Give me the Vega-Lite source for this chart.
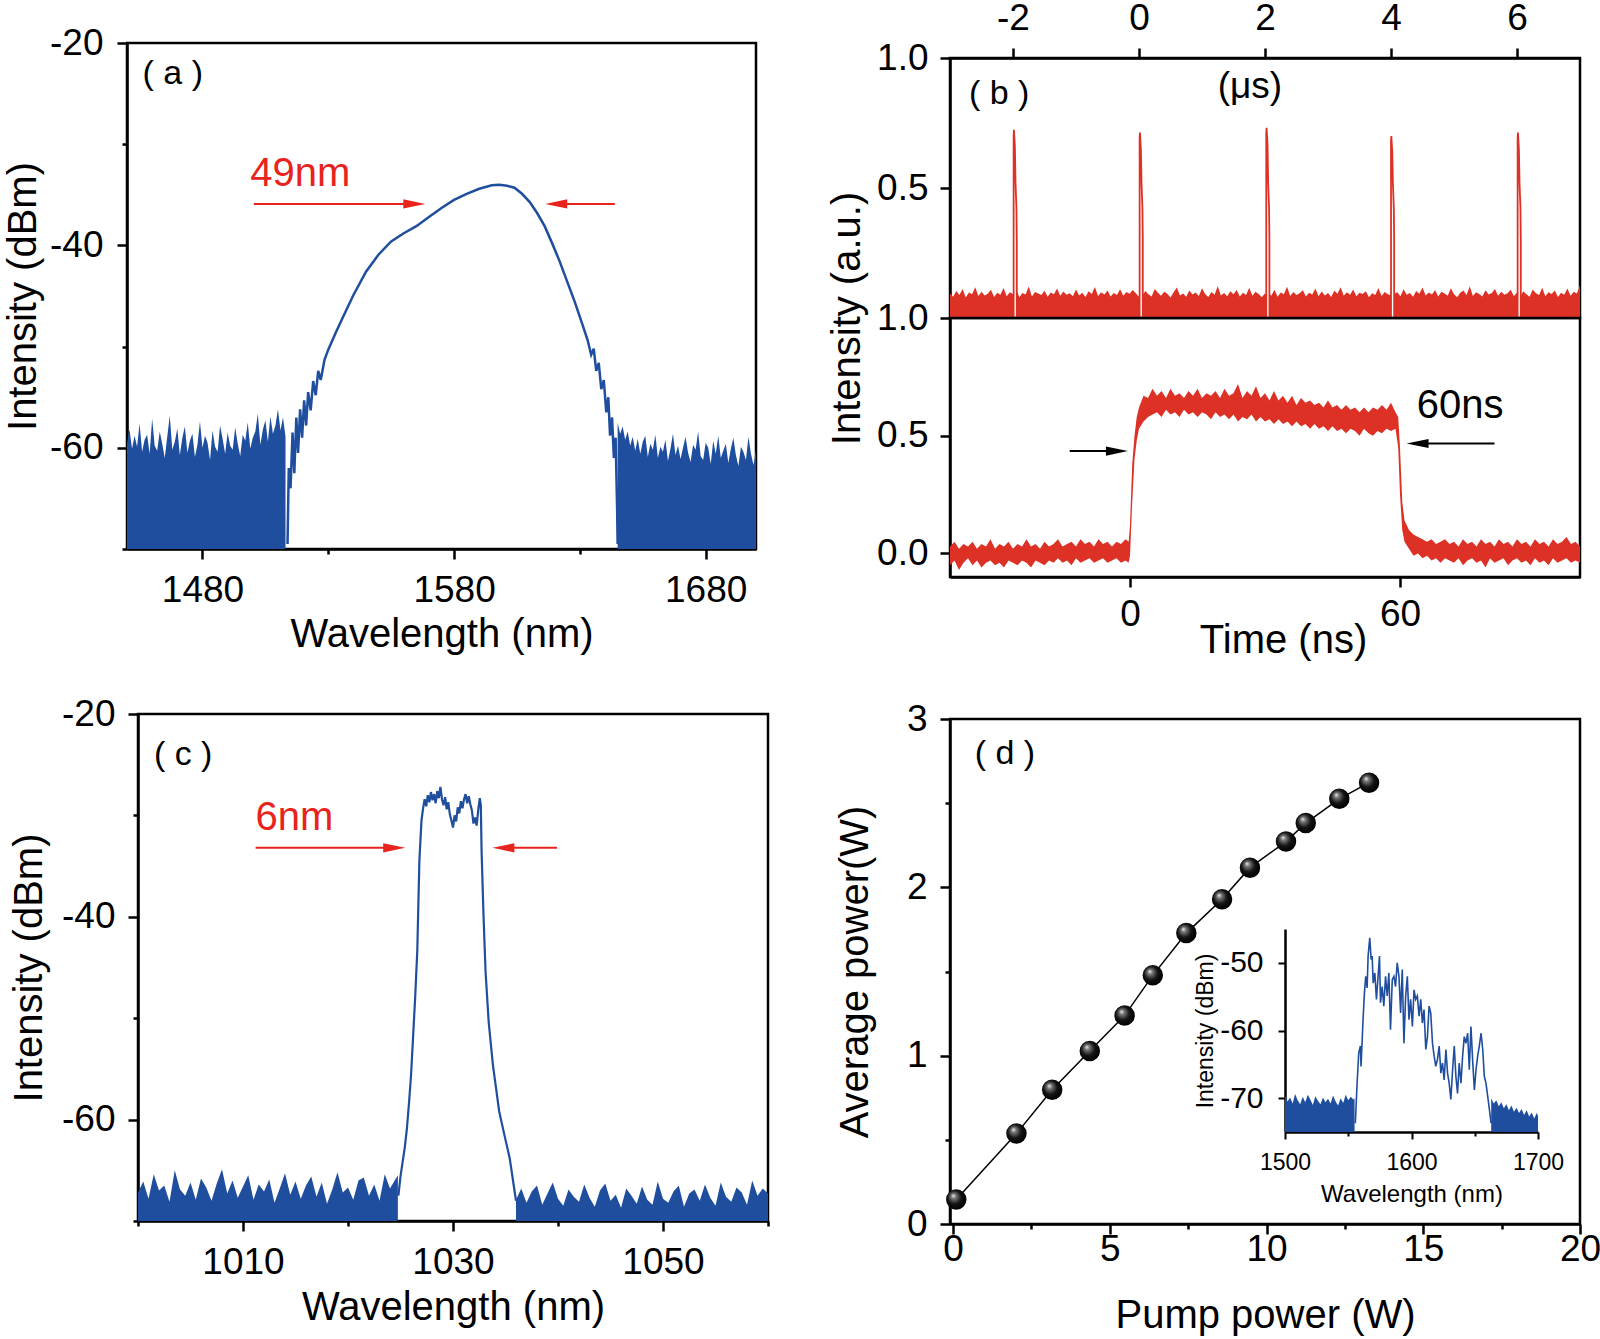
{
"$schema": "https://vega.github.io/schema/vega-lite/v6.json",
"background": "white",
"padding": {"left": 2, "top": -6, "right": 5, "bottom": 5},
"bounds": "full",
"spacing": 55,
"hconcat": [
{"bounds": "flush", "spacing": 0, "vconcat": [
 {"width": 10, "height": 49, "data": {"values": [{"k": 0}]}, "mark": {"type": "point", "opacity": 0}, "encoding": {}, "view": {"stroke": null}},
 {"width": 629, "height": 506, "layer": [
  {"data": {"name": "aNoise"}, "mark": {"type": "area", "color": "#1f4e9f"},
   "encoding": {
    "x": {"field": "x", "type": "quantitative", "scale": {"domain": [1450, 1700], "nice": false, "zero": false},
      "axis": {"title": "Wavelength (nm)", "values": [1480, 1530, 1580, 1630, 1680], "labelExpr": "datum.value % 100 === 80 ? '' + datum.value : ''", "tickSize": {"condition": {"test": "datum.value % 100 === 80", "value": 10}, "value": 5}, "labelPadding": 13, "titlePadding": 6}},
    "y": {"field": "y", "type": "quantitative", "stack": null, "scale": {"domain": [-70, -20], "nice": false, "zero": false},
      "axis": {"title": "Intensity (dBm)", "values": [-70, -60, -50, -40, -30, -20], "labelExpr": "datum.value % 20 === 0 ? '' + datum.value : ''", "tickSize": {"condition": {"test": "datum.value % 20 === 0", "value": 10}, "value": 5}, "labelPadding": 14, "titlePadding": 6}},
    "y2": {"datum": -70},
    "detail": {"field": "s", "type": "nominal"}}},
  {"data": {"name": "aSig"}, "mark": {"type": "line", "color": "#1f4e9f", "strokeWidth": 2.5},
   "encoding": {"x": {"field": "x", "type": "quantitative"}, "y": {"field": "y", "type": "quantitative"}}},
  {"data": {"values": [{"x": 1500.4, "x2": 1564.2, "y": -35.9}, {"x": 1620.6, "x2": 1643.9, "y": -35.9}]},
   "mark": {"type": "rule", "color": "#e8231c", "strokeWidth": 2},
   "encoding": {"x": {"field": "x", "type": "quantitative"}, "x2": {"field": "x2"}, "y": {"field": "y", "type": "quantitative"}}},
  {"data": {"values": [{"x": 1564.2, "y": -35.9, "d": "r"}, {"x": 1620.6, "y": -35.9, "d": "l"}]},
   "mark": {"type": "point", "filled": true, "size": 484, "color": "#e8231c", "opacity": 1, "strokeWidth": 0},
   "encoding": {"x": {"field": "x", "type": "quantitative"}, "y": {"field": "y", "type": "quantitative"},
     "shape": {"field": "d", "type": "nominal", "scale": {"domain": ["r", "l"], "range": ["M-1,-0.42L1,0L-1,0.42Z", "M1,-0.42L-1,0L1,0.42Z"]}, "legend": null}}},
  {"data": {"values": [{"x": 1499, "y": -34.1, "label": "49nm"}]},
   "mark": {"type": "text", "color": "#e8231c", "fontSize": 40, "align": "left", "baseline": "alphabetic"},
   "encoding": {"x": {"field": "x", "type": "quantitative"}, "y": {"field": "y", "type": "quantitative"}, "text": {"field": "label"}}},
  {"data": {"values": [{"x": 1468.2, "y": -23.1, "label": "( a )"}]},
   "mark": {"type": "text", "color": "black", "fontSize": 34, "align": "center", "baseline": "middle"},
   "encoding": {"x": {"field": "x", "type": "quantitative"}, "y": {"field": "y", "type": "quantitative"}, "text": {"field": "label"}}}
 ]},
 {"width": 10, "height": 165, "data": {"values": [{"k": 0}]}, "mark": {"type": "point", "opacity": 0}, "encoding": {}, "view": {"stroke": null}},
 {"bounds": "flush", "spacing": 0, "hconcat": [
  {"width": 11, "height": 10, "data": {"values": [{"k": 0}]}, "mark": {"type": "point", "opacity": 0}, "encoding": {}, "view": {"stroke": null}},
  {"width": 630, "height": 507, "layer": [
   {"data": {"name": "cNoise"}, "mark": {"type": "area", "color": "#1f4e9f"},
    "encoding": {
     "x": {"field": "x", "type": "quantitative", "scale": {"domain": [1000, 1060], "nice": false, "zero": false},
       "axis": {"title": "Wavelength (nm)", "values": [1000, 1010, 1020, 1030, 1040, 1050, 1060], "labelExpr": "(datum.value - 1010) % 20 === 0 ? '' + datum.value : ''", "tickSize": {"condition": {"test": "(datum.value - 1010) % 20 === 0", "value": 10}, "value": 5}, "labelPadding": 13, "titlePadding": 7}},
     "y": {"field": "y", "type": "quantitative", "stack": null, "scale": {"domain": [-70, -20], "nice": false, "zero": false},
       "axis": {"title": "Intensity (dBm)", "values": [-70, -60, -50, -40, -30, -20], "labelExpr": "datum.value % 20 === 0 ? '' + datum.value : ''", "tickSize": {"condition": {"test": "datum.value % 20 === 0", "value": 10}, "value": 5}, "labelPadding": 13, "titlePadding": 12}},
     "y2": {"datum": -70},
     "detail": {"field": "s", "type": "nominal"}}},
   {"data": {"name": "cSig"}, "mark": {"type": "line", "color": "#1f4e9f", "strokeWidth": 2.2},
    "encoding": {"x": {"field": "x", "type": "quantitative"}, "y": {"field": "y", "type": "quantitative"}}},
   {"data": {"values": [{"x": 1011.2, "x2": 1024.4, "y": -33.2}, {"x": 1034.8, "x2": 1039.9, "y": -33.2}]},
    "mark": {"type": "rule", "color": "#e8231c", "strokeWidth": 2},
    "encoding": {"x": {"field": "x", "type": "quantitative"}, "x2": {"field": "x2"}, "y": {"field": "y", "type": "quantitative"}}},
   {"data": {"values": [{"x": 1024.4, "y": -33.2, "d": "r"}, {"x": 1034.8, "y": -33.2, "d": "l"}]},
    "mark": {"type": "point", "filled": true, "size": 484, "color": "#e8231c", "opacity": 1, "strokeWidth": 0},
    "encoding": {"x": {"field": "x", "type": "quantitative"}, "y": {"field": "y", "type": "quantitative"},
      "shape": {"field": "d", "type": "nominal", "scale": {"domain": ["r", "l"], "range": ["M-1,-0.42L1,0L-1,0.42Z", "M1,-0.42L-1,0L1,0.42Z"]}, "legend": null}}},
   {"data": {"values": [{"x": 1011.2, "y": -31.4, "label": "6nm"}]},
    "mark": {"type": "text", "color": "#e8231c", "fontSize": 40, "align": "left", "baseline": "alphabetic"},
    "encoding": {"x": {"field": "x", "type": "quantitative"}, "y": {"field": "y", "type": "quantitative"}, "text": {"field": "label"}}},
   {"data": {"values": [{"x": 1004.3, "y": -24.0, "label": "( c )"}]},
    "mark": {"type": "text", "color": "black", "fontSize": 34, "align": "center", "baseline": "middle"},
    "encoding": {"x": {"field": "x", "type": "quantitative"}, "y": {"field": "y", "type": "quantitative"}, "text": {"field": "label"}}}
  ]}
 ]}
]},
{"bounds": "flush", "spacing": 0, "vconcat": [
 {"width": 10, "height": 64, "data": {"values": [{"k": 0}]}, "mark": {"type": "point", "opacity": 0}, "encoding": {}, "view": {"stroke": null}},
 {"width": 630, "height": 260, "layer": [
  {"data": {"name": "bBand"}, "mark": {"type": "area", "color": "#dd3126"},
   "encoding": {
    "x": {"field": "t", "type": "quantitative", "scale": {"domain": [-3, 7], "nice": false, "zero": false},
      "axis": {"orient": "top", "title": null, "values": [-2, 0, 2, 4, 6], "labelExpr": "'' + datum.value", "labelPadding": 11}},
    "y": {"field": "v", "type": "quantitative", "stack": null, "scale": {"domain": [0, 1], "nice": false, "zero": false},
      "axis": {"title": null, "values": [0.5, 1], "labelExpr": "format(datum.value, '.1f')", "labelPadding": 12}},
    "y2": {"datum": 0},
    "detail": {"field": "s", "type": "nominal"}}},
  {"data": {"name": "bPulse"}, "mark": {"type": "line", "color": "#dd3126", "strokeWidth": 1.8},
   "encoding": {"x": {"field": "t", "type": "quantitative"}, "y": {"field": "v", "type": "quantitative"}, "detail": {"field": "p", "type": "nominal"}, "order": {"value": null}}},
  {"data": {"values": [{"t": -2.22, "v": 0.862, "label": "( b )"}]},
   "mark": {"type": "text", "color": "black", "fontSize": 34, "align": "center", "baseline": "middle"},
   "encoding": {"x": {"field": "t", "type": "quantitative"}, "y": {"field": "v", "type": "quantitative"}, "text": {"field": "label"}}},
  {"data": {"values": [{"t": 1.76, "v": 0.888, "label": "(μs)"}]},
   "mark": {"type": "text", "color": "black", "fontSize": 37, "align": "center", "baseline": "middle"},
   "encoding": {"x": {"field": "t", "type": "quantitative"}, "y": {"field": "v", "type": "quantitative"}, "text": {"field": "label"}}}
 ]},
 {"width": 630, "height": 259, "layer": [
  {"data": {"name": "bLow"}, "mark": {"type": "area", "color": "#dd3126"},
   "encoding": {
    "x": {"field": "t", "type": "quantitative", "scale": {"domain": [-40, 100], "nice": false, "zero": false},
      "axis": {"title": "Time (ns)", "values": [0, 60], "labelExpr": "'' + datum.value", "labelPadding": 9, "titlePadding": -12, "titleX": 333}},
    "y": {"field": "hi", "type": "quantitative", "stack": null, "scale": {"domain": [-0.1, 1], "nice": false, "zero": false},
      "axis": {"title": "Intensity (a.u.)", "values": [0, 0.5, 1], "labelExpr": "format(datum.value, '.1f')", "labelPadding": 12, "titlePadding": 9, "titleY": 0}},
    "y2": {"field": "lo"}}},
  {"data": {"values": [{"x": -13.4, "x2": -2.9, "y": 0.435}, {"x": 63.9, "x2": 81.0, "y": 0.467}]},
   "mark": {"type": "rule", "color": "black", "strokeWidth": 2},
   "encoding": {"x": {"field": "x", "type": "quantitative"}, "x2": {"field": "x2"}, "y": {"field": "y", "type": "quantitative"}}},
  {"data": {"values": [{"x": -2.9, "y": 0.435, "d": "r"}, {"x": 63.9, "y": 0.467, "d": "l"}]},
   "mark": {"type": "point", "filled": true, "size": 484, "color": "black", "opacity": 1, "strokeWidth": 0},
   "encoding": {"x": {"field": "x", "type": "quantitative"}, "y": {"field": "y", "type": "quantitative"},
     "shape": {"field": "d", "type": "nominal", "scale": {"domain": ["r", "l"], "range": ["M-1,-0.42L1,0L-1,0.42Z", "M1,-0.42L-1,0L1,0.42Z"]}, "legend": null}}},
  {"data": {"values": [{"x": 63.7, "y": 0.575, "label": "60ns"}]},
   "mark": {"type": "text", "color": "black", "fontSize": 40, "align": "left", "baseline": "alphabetic"},
   "encoding": {"x": {"field": "x", "type": "quantitative"}, "y": {"field": "y", "type": "quantitative"}, "text": {"field": "label"}}}
 ]},
 {"width": 10, "height": 142, "data": {"values": [{"k": 0}]}, "mark": {"type": "point", "opacity": 0}, "encoding": {}, "view": {"stroke": null}},
 {"width": 630, "height": 505,
  "resolve": {"scale": {"x": "independent", "y": "independent"}, "axis": {"x": "independent", "y": "independent"}},
  "layer": [
   {"layer": [
    {"data": {"name": "dPts"}, "mark": {"type": "line", "color": "black", "strokeWidth": 1.5},
     "encoding": {
      "x": {"field": "x", "type": "quantitative", "scale": {"domain": [-0.1, 20], "nice": false, "zero": false},
        "axis": {"title": "Pump power (W)", "values": [0, 2.5, 5, 7.5, 10, 12.5, 15, 17.5, 20], "labelExpr": "datum.value % 5 === 0 ? '' + datum.value : ''", "tickSize": {"condition": {"test": "datum.value % 5 === 0", "value": 10}, "value": 5}, "labelPadding": -3, "titlePadding": 28}},
      "y": {"field": "y", "type": "quantitative", "scale": {"domain": [0, 3], "nice": false, "zero": false},
        "axis": {"title": "Average power(W)", "values": [0, 0.5, 1, 1.5, 2, 2.5, 3], "labelExpr": "datum.value % 1 === 0 ? '' + datum.value : ''", "tickSize": {"condition": {"test": "datum.value % 1 === 0", "value": 10}, "value": 5}, "labelPadding": 13, "titlePadding": 31}}}},
    {"data": {"name": "dPts"}, "mark": {"type": "point", "filled": true, "size": 420, "opacity": 1, "strokeWidth": 0,
       "fill": {"gradient": "radial", "x1": 0.35, "y1": 0.3, "r1": 0, "x2": 0.45, "y2": 0.45, "r2": 0.55, "stops": [{"offset": 0, "color": "#f2f2f2"}, {"offset": 0.22, "color": "#777777"}, {"offset": 0.6, "color": "#141414"}, {"offset": 1, "color": "#000000"}]}},
     "encoding": {"x": {"field": "x", "type": "quantitative"}, "y": {"field": "y", "type": "quantitative"}}},
    {"data": {"values": [{"x": 1.65, "y": 2.79, "label": "( d )"}]},
     "mark": {"type": "text", "color": "black", "fontSize": 34, "align": "center", "baseline": "middle"},
     "encoding": {"x": {"field": "x", "type": "quantitative"}, "y": {"field": "y", "type": "quantitative"}, "text": {"field": "label"}}}
   ]},
   {"layer": [
    {"data": {"name": "insetNoise"}, "mark": {"type": "area", "color": "#1f4e9f"},
     "encoding": {
      "x": {"field": "x", "type": "quantitative", "scale": {"domain": [1500, 1700], "range": [335, 588], "nice": false, "zero": false},
        "axis": {"orient": "bottom", "offset": -92, "title": "Wavelength (nm)", "values": [1500, 1550, 1600, 1650, 1700], "labelExpr": "datum.value % 100 === 0 ? '' + datum.value : ''", "tickSize": {"condition": {"test": "datum.value % 100 === 0", "value": 7}, "value": 4}, "tickWidth": 2, "labelFontSize": 23, "titleFontSize": 24, "labelPadding": 12, "titlePadding": 8}},
      "y": {"field": "y", "type": "quantitative", "stack": null, "scale": {"domain": [-75, -45], "range": [413, 210], "nice": false, "zero": false},
        "axis": {"orient": "left", "offset": -335, "title": "Intensity (dBm)", "values": [-70, -60, -50], "labelExpr": "'' + datum.value", "tickSize": 7, "tickWidth": 2, "labelFontSize": 30, "titleFontSize": 23, "labelPadding": 15, "titlePadding": 2}},
      "y2": {"datum": -75},
      "detail": {"field": "s", "type": "nominal"}}},
    {"data": {"name": "insetSig"}, "mark": {"type": "line", "color": "#1f4e9f", "strokeWidth": 1.6},
     "encoding": {"x": {"field": "x", "type": "quantitative"}, "y": {"field": "y", "type": "quantitative"}}}
   ]}
  ]}
]}
],
"datasets": {
"aNoise": [
{"x":1450,"y":-59.5,"s":1},{"x":1451,"y":-58.2,"s":1},{"x":1452,"y":-60.1,"s":1},{"x":1453,"y":-58.8,"s":1},{"x":1454,"y":-59.9,"s":1},{"x":1455,"y":-57.6,"s":1},{"x":1456,"y":-60.4,"s":1},{"x":1457,"y":-59.2,"s":1},{"x":1458,"y":-58.7,"s":1},{"x":1459,"y":-60.6,"s":1},
{"x":1460,"y":-57.1,"s":1},{"x":1461,"y":-59.8,"s":1},{"x":1462,"y":-60.3,"s":1},{"x":1463,"y":-58.4,"s":1},{"x":1464,"y":-59.6,"s":1},{"x":1465,"y":-61.0,"s":1},{"x":1466,"y":-58.9,"s":1},{"x":1467,"y":-56.8,"s":1},{"x":1468,"y":-60.2,"s":1},{"x":1469,"y":-59.4,"s":1},
{"x":1470,"y":-58.1,"s":1},{"x":1471,"y":-60.7,"s":1},{"x":1472,"y":-59.0,"s":1},{"x":1473,"y":-57.9,"s":1},{"x":1474,"y":-60.5,"s":1},{"x":1475,"y":-59.3,"s":1},{"x":1476,"y":-58.6,"s":1},{"x":1477,"y":-60.9,"s":1},{"x":1478,"y":-59.7,"s":1},{"x":1479,"y":-57.4,"s":1},
{"x":1480,"y":-60.0,"s":1},{"x":1481,"y":-58.8,"s":1},{"x":1482,"y":-59.5,"s":1},{"x":1483,"y":-61.2,"s":1},{"x":1484,"y":-58.3,"s":1},{"x":1485,"y":-59.9,"s":1},{"x":1486,"y":-60.4,"s":1},{"x":1487,"y":-57.8,"s":1},{"x":1488,"y":-59.1,"s":1},{"x":1489,"y":-60.6,"s":1},
{"x":1490,"y":-58.5,"s":1},{"x":1491,"y":-59.8,"s":1},{"x":1492,"y":-60.2,"s":1},{"x":1493,"y":-58.0,"s":1},{"x":1494,"y":-59.6,"s":1},{"x":1495,"y":-60.8,"s":1},{"x":1496,"y":-58.7,"s":1},{"x":1497,"y":-59.3,"s":1},{"x":1498,"y":-57.5,"s":1},{"x":1499,"y":-60.1,"s":1},
{"x":1500,"y":-59.0,"s":1},{"x":1501,"y":-58.4,"s":1},{"x":1502,"y":-56.6,"s":1},{"x":1503,"y":-59.7,"s":1},{"x":1504,"y":-58.2,"s":1},{"x":1505,"y":-57.3,"s":1},{"x":1506,"y":-59.4,"s":1},{"x":1507,"y":-56.9,"s":1},{"x":1508,"y":-58.6,"s":1},{"x":1509,"y":-57.8,"s":1},
{"x":1510,"y":-56.2,"s":1},{"x":1511,"y":-58.3,"s":1},{"x":1512,"y":-57.0,"s":1},{"x":1513,"y":-58.9,"s":1},
{"x":1645,"y":-57.5,"s":2},{"x":1646,"y":-58.6,"s":2},{"x":1647,"y":-57.9,"s":2},{"x":1648,"y":-59.2,"s":2},{"x":1649,"y":-58.4,"s":2},{"x":1650,"y":-59.8,"s":2},{"x":1651,"y":-58.9,"s":2},{"x":1652,"y":-60.3,"s":2},{"x":1653,"y":-59.1,"s":2},{"x":1654,"y":-60.6,"s":2},
{"x":1655,"y":-59.4,"s":2},{"x":1656,"y":-58.8,"s":2},{"x":1657,"y":-60.9,"s":2},{"x":1658,"y":-59.6,"s":2},{"x":1659,"y":-60.2,"s":2},{"x":1660,"y":-58.7,"s":2},{"x":1661,"y":-61.0,"s":2},{"x":1662,"y":-59.9,"s":2},{"x":1663,"y":-60.4,"s":2},{"x":1664,"y":-59.2,"s":2},
{"x":1665,"y":-61.3,"s":2},{"x":1666,"y":-60.1,"s":2},{"x":1667,"y":-58.6,"s":2},{"x":1668,"y":-60.7,"s":2},{"x":1669,"y":-59.8,"s":2},{"x":1670,"y":-61.1,"s":2},{"x":1671,"y":-60.0,"s":2},{"x":1672,"y":-58.9,"s":2},{"x":1673,"y":-60.5,"s":2},{"x":1674,"y":-61.4,"s":2},
{"x":1675,"y":-59.7,"s":2},{"x":1676,"y":-60.2,"s":2},{"x":1677,"y":-58.4,"s":2},{"x":1678,"y":-60.8,"s":2},{"x":1679,"y":-61.2,"s":2},{"x":1680,"y":-59.5,"s":2},{"x":1681,"y":-60.0,"s":2},{"x":1682,"y":-61.6,"s":2},{"x":1683,"y":-59.3,"s":2},{"x":1684,"y":-60.6,"s":2},
{"x":1685,"y":-58.8,"s":2},{"x":1686,"y":-61.0,"s":2},{"x":1687,"y":-60.3,"s":2},{"x":1688,"y":-59.6,"s":2},{"x":1689,"y":-61.5,"s":2},{"x":1690,"y":-60.1,"s":2},{"x":1691,"y":-59.0,"s":2},{"x":1692,"y":-60.7,"s":2},{"x":1693,"y":-61.8,"s":2},{"x":1694,"y":-59.9,"s":2},
{"x":1695,"y":-60.4,"s":2},{"x":1696,"y":-61.2,"s":2},{"x":1697,"y":-58.9,"s":2},{"x":1698,"y":-60.6,"s":2},{"x":1699,"y":-61.7,"s":2},{"x":1700,"y":-60.2,"s":2}
],
"aSig": [
{"x":1513.8,"y":-69.5},{"x":1514.3,"y":-62},{"x":1515,"y":-64},{"x":1515.8,"y":-58.5},{"x":1516.5,"y":-62.5},{"x":1517.3,"y":-57},{"x":1518,"y":-60.5},{"x":1518.8,"y":-56.2},{"x":1519.6,"y":-59},{"x":1520.4,"y":-55.3},
{"x":1521.2,"y":-57.8},{"x":1522,"y":-54.5},{"x":1523,"y":-56.3},{"x":1524,"y":-53.4},{"x":1525,"y":-54.8},{"x":1526,"y":-52.4},{"x":1527,"y":-53.3},{"x":1528.5,"y":-51.3},{"x":1530,"y":-50.3},{"x":1533,"y":-48.6},
{"x":1536,"y":-47},{"x":1540,"y":-44.9},{"x":1545,"y":-42.6},{"x":1550,"y":-40.9},{"x":1555,"y":-39.6},{"x":1560,"y":-38.8},{"x":1565,"y":-38.1},{"x":1570,"y":-37.2},{"x":1575,"y":-36.3},{"x":1580,"y":-35.5},
{"x":1585,"y":-34.9},{"x":1590,"y":-34.4},{"x":1595,"y":-34.05},{"x":1598,"y":-34.0},{"x":1601,"y":-34.1},{"x":1604,"y":-34.3},{"x":1607,"y":-34.9},{"x":1610,"y":-35.7},{"x":1613,"y":-36.8},{"x":1616,"y":-38.1},
{"x":1619,"y":-39.8},{"x":1622,"y":-41.6},{"x":1625,"y":-43.6},{"x":1628,"y":-45.6},{"x":1631,"y":-47.8},{"x":1633,"y":-49.3},{"x":1634.5,"y":-50.8},{"x":1635.5,"y":-50.2},{"x":1636.5,"y":-52.4},{"x":1637.5,"y":-51.6},
{"x":1638.5,"y":-54.2},{"x":1639.5,"y":-53.3},{"x":1640.5,"y":-56.5},{"x":1641.3,"y":-55},{"x":1642,"y":-58.8},{"x":1642.8,"y":-57},{"x":1643.5,"y":-61},{"x":1644.2,"y":-59},{"x":1644.8,"y":-66},{"x":1645,"y":-69.5}
],
"cNoise": [
{"x":1000,"y":-67.2,"s":1},{"x":1000.5,"y":-66.1,"s":1},{"x":1001,"y":-67.8,"s":1},{"x":1001.5,"y":-65.4,"s":1},{"x":1002,"y":-67.0,"s":1},{"x":1002.5,"y":-66.5,"s":1},{"x":1003,"y":-68.1,"s":1},{"x":1003.5,"y":-65.0,"s":1},{"x":1004,"y":-66.9,"s":1},{"x":1004.5,"y":-67.5,"s":1},
{"x":1005,"y":-66.2,"s":1},{"x":1005.5,"y":-67.9,"s":1},{"x":1006,"y":-65.8,"s":1},{"x":1006.5,"y":-66.7,"s":1},{"x":1007,"y":-68.0,"s":1},{"x":1007.5,"y":-66.3,"s":1},{"x":1008,"y":-64.9,"s":1},{"x":1008.5,"y":-67.3,"s":1},{"x":1009,"y":-66.0,"s":1},{"x":1009.5,"y":-67.7,"s":1},
{"x":1010,"y":-66.6,"s":1},{"x":1010.5,"y":-65.5,"s":1},{"x":1011,"y":-67.9,"s":1},{"x":1011.5,"y":-66.4,"s":1},{"x":1012,"y":-67.1,"s":1},{"x":1012.5,"y":-65.9,"s":1},{"x":1013,"y":-68.2,"s":1},{"x":1013.5,"y":-66.8,"s":1},{"x":1014,"y":-65.3,"s":1},{"x":1014.5,"y":-67.4,"s":1},
{"x":1015,"y":-66.1,"s":1},{"x":1015.5,"y":-67.8,"s":1},{"x":1016,"y":-66.5,"s":1},{"x":1016.5,"y":-65.6,"s":1},{"x":1017,"y":-67.6,"s":1},{"x":1017.5,"y":-66.2,"s":1},{"x":1018,"y":-68.3,"s":1},{"x":1018.5,"y":-66.9,"s":1},{"x":1019,"y":-65.2,"s":1},{"x":1019.5,"y":-67.2,"s":1},
{"x":1020,"y":-66.7,"s":1},{"x":1020.5,"y":-67.9,"s":1},{"x":1021,"y":-66.0,"s":1},{"x":1021.5,"y":-65.7,"s":1},{"x":1022,"y":-67.5,"s":1},{"x":1022.5,"y":-66.4,"s":1},{"x":1023,"y":-68.0,"s":1},{"x":1023.5,"y":-65.4,"s":1},{"x":1024,"y":-66.8,"s":1},{"x":1024.5,"y":-65.9,"s":1},{"x":1024.75,"y":-65.5,"s":1},
{"x":1036,"y":-67.9,"s":2},{"x":1036.5,"y":-66.8,"s":2},{"x":1037,"y":-68.2,"s":2},{"x":1037.5,"y":-67.1,"s":2},{"x":1038,"y":-66.5,"s":2},{"x":1038.5,"y":-68.4,"s":2},{"x":1039,"y":-67.3,"s":2},{"x":1039.5,"y":-66.2,"s":2},{"x":1040,"y":-67.8,"s":2},{"x":1040.5,"y":-68.5,"s":2},
{"x":1041,"y":-66.9,"s":2},{"x":1041.5,"y":-67.6,"s":2},{"x":1042,"y":-68.1,"s":2},{"x":1042.5,"y":-66.4,"s":2},{"x":1043,"y":-67.7,"s":2},{"x":1043.5,"y":-68.6,"s":2},{"x":1044,"y":-67.0,"s":2},{"x":1044.5,"y":-66.3,"s":2},{"x":1045,"y":-68.0,"s":2},{"x":1045.5,"y":-67.4,"s":2},
{"x":1046,"y":-68.7,"s":2},{"x":1046.5,"y":-66.8,"s":2},{"x":1047,"y":-67.5,"s":2},{"x":1047.5,"y":-68.3,"s":2},{"x":1048,"y":-66.6,"s":2},{"x":1048.5,"y":-67.9,"s":2},{"x":1049,"y":-68.4,"s":2},{"x":1049.5,"y":-66.1,"s":2},{"x":1050,"y":-67.8,"s":2},{"x":1050.5,"y":-68.2,"s":2},
{"x":1051,"y":-67.1,"s":2},{"x":1051.5,"y":-66.5,"s":2},{"x":1052,"y":-68.6,"s":2},{"x":1052.5,"y":-67.3,"s":2},{"x":1053,"y":-66.9,"s":2},{"x":1053.5,"y":-68.0,"s":2},{"x":1054,"y":-66.4,"s":2},{"x":1054.5,"y":-67.7,"s":2},{"x":1055,"y":-68.5,"s":2},{"x":1055.5,"y":-66.2,"s":2},
{"x":1056,"y":-67.6,"s":2},{"x":1056.5,"y":-68.1,"s":2},{"x":1057,"y":-66.7,"s":2},{"x":1057.5,"y":-67.2,"s":2},{"x":1058,"y":-68.4,"s":2},{"x":1058.5,"y":-66.0,"s":2},{"x":1059,"y":-67.5,"s":2},{"x":1059.5,"y":-66.8,"s":2},{"x":1060,"y":-67.3,"s":2}
],
"cSig": [
{"x":1024.8,"y":-67.5},{"x":1025.0,"y":-65.6},{"x":1025.2,"y":-64.2},{"x":1025.4,"y":-62.8},{"x":1025.6,"y":-61},{"x":1025.8,"y":-58.5},{"x":1026.0,"y":-55.7},{"x":1026.2,"y":-51.8},{"x":1026.4,"y":-47.9},{"x":1026.6,"y":-43.3},
{"x":1026.8,"y":-34.4},{"x":1027.0,"y":-30.5},{"x":1027.15,"y":-29.3},{"x":1027.3,"y":-28.4},{"x":1027.45,"y":-29.1},{"x":1027.6,"y":-28.0},{"x":1027.75,"y":-28.7},{"x":1027.9,"y":-27.7},{"x":1028.05,"y":-28.5},{"x":1028.2,"y":-27.9},
{"x":1028.35,"y":-28.8},{"x":1028.5,"y":-27.6},{"x":1028.65,"y":-28.3},{"x":1028.8,"y":-27.2},{"x":1028.95,"y":-28.4},{"x":1029.1,"y":-29.0},{"x":1029.25,"y":-28.2},{"x":1029.4,"y":-29.4},{"x":1029.55,"y":-28.7},{"x":1029.7,"y":-29.9},
{"x":1029.85,"y":-30.5},{"x":1030.0,"y":-31.2},{"x":1030.15,"y":-30.0},{"x":1030.3,"y":-30.6},{"x":1030.45,"y":-29.2},{"x":1030.6,"y":-29.8},{"x":1030.75,"y":-28.6},{"x":1030.9,"y":-29.3},{"x":1031.05,"y":-28.4},{"x":1031.2,"y":-27.9},
{"x":1031.35,"y":-28.8},{"x":1031.5,"y":-28.1},{"x":1031.65,"y":-28.9},{"x":1031.8,"y":-29.5},{"x":1031.95,"y":-30.8},{"x":1032.1,"y":-30.2},{"x":1032.25,"y":-31.0},{"x":1032.4,"y":-29.5},{"x":1032.55,"y":-28.3},{"x":1032.65,"y":-29.0},
{"x":1032.72,"y":-33.4},{"x":1032.9,"y":-39.7},{"x":1033.1,"y":-45.4},{"x":1033.4,"y":-50.4},{"x":1033.8,"y":-54.6},{"x":1034.4,"y":-59.2},{"x":1035.0,"y":-62},{"x":1035.4,"y":-63.8},{"x":1035.8,"y":-66.6},{"x":1036.0,"y":-68}
],
"bBand": [
{"t":-3,"v":0.095,"s":1},{"t":-2.95,"v":0.082,"s":1},{"t":-2.9,"v":0.104,"s":1},{"t":-2.85,"v":0.088,"s":1},{"t":-2.8,"v":0.112,"s":1},{"t":-2.75,"v":0.079,"s":1},{"t":-2.7,"v":0.098,"s":1},{"t":-2.65,"v":0.091,"s":1},{"t":-2.6,"v":0.118,"s":1},{"t":-2.55,"v":0.085,"s":1},
{"t":-2.5,"v":0.101,"s":1},{"t":-2.45,"v":0.087,"s":1},{"t":-2.4,"v":0.093,"s":1},{"t":-2.35,"v":0.109,"s":1},{"t":-2.3,"v":0.081,"s":1},{"t":-2.25,"v":0.097,"s":1},{"t":-2.2,"v":0.089,"s":1},{"t":-2.15,"v":0.115,"s":1},{"t":-2.1,"v":0.084,"s":1},{"t":-2.05,"v":0.099,"s":1},
{"t":-2,"v":0.092,"s":1},{"t":-1.99,"v":0.086,"s":1},
{"t":-1.94,"v":0.107,"s":2},{"t":-1.9,"v":0.080,"s":2},{"t":-1.85,"v":0.096,"s":2},{"t":-1.8,"v":0.090,"s":2},{"t":-1.75,"v":0.121,"s":2},{"t":-1.7,"v":0.083,"s":2},{"t":-1.65,"v":0.100,"s":2},{"t":-1.6,"v":0.094,"s":2},{"t":-1.55,"v":0.088,"s":2},{"t":-1.5,"v":0.105,"s":2},
{"t":-1.45,"v":0.082,"s":2},{"t":-1.4,"v":0.098,"s":2},{"t":-1.35,"v":0.091,"s":2},{"t":-1.3,"v":0.113,"s":2},{"t":-1.25,"v":0.086,"s":2},{"t":-1.2,"v":0.102,"s":2},{"t":-1.15,"v":0.089,"s":2},{"t":-1.1,"v":0.095,"s":2},{"t":-1.05,"v":0.084,"s":2},{"t":-1,"v":0.110,"s":2},
{"t":-0.95,"v":0.087,"s":2},{"t":-0.9,"v":0.097,"s":2},{"t":-0.85,"v":0.081,"s":2},{"t":-0.8,"v":0.103,"s":2},{"t":-0.75,"v":0.092,"s":2},{"t":-0.7,"v":0.119,"s":2},{"t":-0.65,"v":0.085,"s":2},{"t":-0.6,"v":0.099,"s":2},{"t":-0.55,"v":0.090,"s":2},{"t":-0.5,"v":0.106,"s":2},
{"t":-0.45,"v":0.083,"s":2},{"t":-0.4,"v":0.096,"s":2},{"t":-0.35,"v":0.088,"s":2},{"t":-0.3,"v":0.111,"s":2},{"t":-0.25,"v":0.086,"s":2},{"t":-0.2,"v":0.100,"s":2},{"t":-0.15,"v":0.093,"s":2},{"t":-0.1,"v":0.108,"s":2},{"t":-0.05,"v":0.095,"s":2},{"t":0,"v":0.082,"s":2},{"t":0.01,"v":0.090,"s":2},
{"t":0.06,"v":0.088,"s":3},{"t":0.1,"v":0.104,"s":3},{"t":0.15,"v":0.091,"s":3},{"t":0.2,"v":0.083,"s":3},{"t":0.25,"v":0.112,"s":3},{"t":0.3,"v":0.097,"s":3},{"t":0.35,"v":0.086,"s":3},{"t":0.4,"v":0.101,"s":3},{"t":0.45,"v":0.093,"s":3},{"t":0.5,"v":0.079,"s":3},
{"t":0.55,"v":0.099,"s":3},{"t":0.6,"v":0.117,"s":3},{"t":0.65,"v":0.087,"s":3},{"t":0.7,"v":0.094,"s":3},{"t":0.75,"v":0.082,"s":3},{"t":0.8,"v":0.106,"s":3},{"t":0.85,"v":0.090,"s":3},{"t":0.9,"v":0.098,"s":3},{"t":0.95,"v":0.085,"s":3},{"t":1,"v":0.114,"s":3},
{"t":1.05,"v":0.092,"s":3},{"t":1.1,"v":0.081,"s":3},{"t":1.15,"v":0.100,"s":3},{"t":1.2,"v":0.089,"s":3},{"t":1.25,"v":0.123,"s":3},{"t":1.3,"v":0.087,"s":3},{"t":1.35,"v":0.096,"s":3},{"t":1.4,"v":0.084,"s":3},{"t":1.45,"v":0.103,"s":3},{"t":1.5,"v":0.091,"s":3},
{"t":1.55,"v":0.108,"s":3},{"t":1.6,"v":0.083,"s":3},{"t":1.65,"v":0.097,"s":3},{"t":1.7,"v":0.088,"s":3},{"t":1.75,"v":0.116,"s":3},{"t":1.8,"v":0.086,"s":3},{"t":1.85,"v":0.101,"s":3},{"t":1.9,"v":0.092,"s":3},{"t":1.95,"v":0.080,"s":3},{"t":2,"v":0.095,"s":3},{"t":2.02,"v":0.089,"s":3},
{"t":2.07,"v":0.094,"s":4},{"t":2.1,"v":0.086,"s":4},{"t":2.15,"v":0.109,"s":4},{"t":2.2,"v":0.082,"s":4},{"t":2.25,"v":0.098,"s":4},{"t":2.3,"v":0.091,"s":4},{"t":2.35,"v":0.120,"s":4},{"t":2.4,"v":0.085,"s":4},{"t":2.45,"v":0.100,"s":4},{"t":2.5,"v":0.088,"s":4},
{"t":2.55,"v":0.095,"s":4},{"t":2.6,"v":0.107,"s":4},{"t":2.65,"v":0.083,"s":4},{"t":2.7,"v":0.097,"s":4},{"t":2.75,"v":0.090,"s":4},{"t":2.8,"v":0.113,"s":4},{"t":2.85,"v":0.084,"s":4},{"t":2.9,"v":0.102,"s":4},{"t":2.95,"v":0.087,"s":4},{"t":3,"v":0.096,"s":4},
{"t":3.05,"v":0.081,"s":4},{"t":3.1,"v":0.105,"s":4},{"t":3.15,"v":0.093,"s":4},{"t":3.2,"v":0.118,"s":4},{"t":3.25,"v":0.086,"s":4},{"t":3.3,"v":0.099,"s":4},{"t":3.35,"v":0.089,"s":4},{"t":3.4,"v":0.110,"s":4},{"t":3.45,"v":0.084,"s":4},{"t":3.5,"v":0.097,"s":4},
{"t":3.55,"v":0.092,"s":4},{"t":3.6,"v":0.103,"s":4},{"t":3.65,"v":0.080,"s":4},{"t":3.7,"v":0.095,"s":4},{"t":3.75,"v":0.088,"s":4},{"t":3.8,"v":0.115,"s":4},{"t":3.85,"v":0.085,"s":4},{"t":3.9,"v":0.100,"s":4},{"t":3.95,"v":0.091,"s":4},{"t":4,"v":0.087,"s":4},
{"t":4.05,"v":0.092,"s":5},{"t":4.1,"v":0.099,"s":5},{"t":4.15,"v":0.084,"s":5},{"t":4.2,"v":0.111,"s":5},{"t":4.25,"v":0.089,"s":5},{"t":4.3,"v":0.096,"s":5},{"t":4.35,"v":0.082,"s":5},{"t":4.4,"v":0.104,"s":5},{"t":4.45,"v":0.093,"s":5},{"t":4.5,"v":0.117,"s":5},
{"t":4.55,"v":0.087,"s":5},{"t":4.6,"v":0.098,"s":5},{"t":4.65,"v":0.090,"s":5},{"t":4.7,"v":0.108,"s":5},{"t":4.75,"v":0.083,"s":5},{"t":4.8,"v":0.101,"s":5},{"t":4.85,"v":0.094,"s":5},{"t":4.9,"v":0.086,"s":5},{"t":4.95,"v":0.114,"s":5},{"t":5,"v":0.091,"s":5},
{"t":5.05,"v":0.080,"s":5},{"t":5.1,"v":0.097,"s":5},{"t":5.15,"v":0.106,"s":5},{"t":5.2,"v":0.088,"s":5},{"t":5.25,"v":0.122,"s":5},{"t":5.3,"v":0.085,"s":5},{"t":5.35,"v":0.099,"s":5},{"t":5.4,"v":0.092,"s":5},{"t":5.45,"v":0.083,"s":5},{"t":5.5,"v":0.107,"s":5},
{"t":5.55,"v":0.090,"s":5},{"t":5.6,"v":0.096,"s":5},{"t":5.65,"v":0.112,"s":5},{"t":5.7,"v":0.086,"s":5},{"t":5.75,"v":0.101,"s":5},{"t":5.8,"v":0.089,"s":5},{"t":5.85,"v":0.095,"s":5},{"t":5.9,"v":0.109,"s":5},{"t":5.95,"v":0.084,"s":5},{"t":6,"v":0.098,"s":5},{"t":6.01,"v":0.090,"s":5},
{"t":6.06,"v":0.087,"s":6},{"t":6.1,"v":0.103,"s":6},{"t":6.15,"v":0.091,"s":6},{"t":6.2,"v":0.082,"s":6},{"t":6.25,"v":0.110,"s":6},{"t":6.3,"v":0.095,"s":6},{"t":6.35,"v":0.088,"s":6},{"t":6.4,"v":0.116,"s":6},{"t":6.45,"v":0.084,"s":6},{"t":6.5,"v":0.099,"s":6},
{"t":6.55,"v":0.092,"s":6},{"t":6.6,"v":0.106,"s":6},{"t":6.65,"v":0.081,"s":6},{"t":6.7,"v":0.097,"s":6},{"t":6.75,"v":0.089,"s":6},{"t":6.8,"v":0.113,"s":6},{"t":6.85,"v":0.086,"s":6},{"t":6.9,"v":0.101,"s":6},{"t":6.95,"v":0.094,"s":6},{"t":7,"v":0.125,"s":6}
],
"bPulse": [
{"t":-1.99,"v":0,"p":1},{"t":-1.99,"v":0.70,"p":1},{"t":-1.985,"v":0.724,"p":1},{"t":-1.97,"v":0.66,"p":1},{"t":-1.96,"v":0.52,"p":1},{"t":-1.945,"v":0.42,"p":1},{"t":-1.94,"v":0.3,"p":1},{"t":-1.94,"v":0,"p":1},
{"t":0.01,"v":0,"p":2},{"t":0.01,"v":0.69,"p":2},{"t":0.015,"v":0.713,"p":2},{"t":0.03,"v":0.65,"p":2},{"t":0.04,"v":0.52,"p":2},{"t":0.055,"v":0.42,"p":2},{"t":0.06,"v":0.3,"p":2},{"t":0.06,"v":0,"p":2},
{"t":2.02,"v":0,"p":3},{"t":2.02,"v":0.71,"p":3},{"t":2.025,"v":0.732,"p":3},{"t":2.04,"v":0.67,"p":3},{"t":2.05,"v":0.52,"p":3},{"t":2.065,"v":0.42,"p":3},{"t":2.07,"v":0.3,"p":3},{"t":2.07,"v":0,"p":3},
{"t":4.0,"v":0,"p":4},{"t":4.0,"v":0.68,"p":4},{"t":4.005,"v":0.70,"p":4},{"t":4.02,"v":0.64,"p":4},{"t":4.03,"v":0.52,"p":4},{"t":4.045,"v":0.42,"p":4},{"t":4.05,"v":0.3,"p":4},{"t":4.05,"v":0,"p":4},
{"t":6.01,"v":0,"p":5},{"t":6.01,"v":0.69,"p":5},{"t":6.015,"v":0.713,"p":5},{"t":6.03,"v":0.65,"p":5},{"t":6.04,"v":0.52,"p":5},{"t":6.055,"v":0.42,"p":5},{"t":6.06,"v":0.3,"p":5},{"t":6.06,"v":0,"p":5}
],
"bLow": [
{"t":-40,"lo":-0.05,"hi":0.03},{"t":-39,"lo":-0.03,"hi":0.05},{"t":-38,"lo":-0.07,"hi":0.02},{"t":-37,"lo":-0.04,"hi":0.04},{"t":-36,"lo":-0.02,"hi":0.03},{"t":-35,"lo":-0.05,"hi":0.05},{"t":-34,"lo":-0.03,"hi":0.02},{"t":-33,"lo":-0.06,"hi":0.04},{"t":-32,"lo":-0.04,"hi":0.03},{"t":-31,"lo":-0.03,"hi":0.06},
{"t":-30,"lo":-0.05,"hi":0.02},{"t":-29,"lo":-0.04,"hi":0.04},{"t":-28,"lo":-0.06,"hi":0.03},{"t":-27,"lo":-0.03,"hi":0.05},{"t":-26,"lo":-0.04,"hi":0.02},{"t":-25,"lo":-0.05,"hi":0.04},{"t":-24,"lo":-0.03,"hi":0.03},{"t":-23,"lo":-0.04,"hi":0.06},{"t":-22,"lo":-0.06,"hi":0.03},{"t":-21,"lo":-0.03,"hi":0.04},
{"t":-20,"lo":-0.04,"hi":0.02},{"t":-19,"lo":-0.05,"hi":0.05},{"t":-18,"lo":-0.03,"hi":0.03},{"t":-17,"lo":-0.04,"hi":0.04},{"t":-16,"lo":-0.02,"hi":0.06},{"t":-15,"lo":-0.04,"hi":0.03},{"t":-14,"lo":-0.03,"hi":0.04},{"t":-13,"lo":-0.05,"hi":0.05},{"t":-12,"lo":-0.02,"hi":0.03},{"t":-11,"lo":-0.04,"hi":0.06},
{"t":-10,"lo":-0.03,"hi":0.04},{"t":-9,"lo":-0.02,"hi":0.05},{"t":-8,"lo":-0.04,"hi":0.03},{"t":-7,"lo":-0.03,"hi":0.06},{"t":-6,"lo":-0.02,"hi":0.04},{"t":-5,"lo":-0.04,"hi":0.05},{"t":-4,"lo":-0.03,"hi":0.03},{"t":-3,"lo":-0.02,"hi":0.05},{"t":-2,"lo":-0.04,"hi":0.04},{"t":-1,"lo":-0.03,"hi":0.06},
{"t":-0.3,"lo":-0.04,"hi":0.05},{"t":0,"lo":-0.01,"hi":0.12},{"t":0.5,"lo":0.22,"hi":0.38},{"t":1,"lo":0.40,"hi":0.50},{"t":1.5,"lo":0.48,"hi":0.58},{"t":2,"lo":0.53,"hi":0.62},{"t":3,"lo":0.56,"hi":0.67},{"t":4,"lo":0.58,"hi":0.66},{"t":5,"lo":0.59,"hi":0.70},{"t":6,"lo":0.60,"hi":0.67},
{"t":7,"lo":0.58,"hi":0.69},{"t":8,"lo":0.61,"hi":0.66},{"t":9,"lo":0.59,"hi":0.70},{"t":10,"lo":0.60,"hi":0.67},{"t":11,"lo":0.58,"hi":0.68},{"t":12,"lo":0.61,"hi":0.66},{"t":13,"lo":0.59,"hi":0.69},{"t":14,"lo":0.60,"hi":0.67},{"t":15,"lo":0.58,"hi":0.70},{"t":16,"lo":0.60,"hi":0.66},
{"t":17,"lo":0.59,"hi":0.68},{"t":18,"lo":0.57,"hi":0.67},{"t":19,"lo":0.60,"hi":0.69},{"t":20,"lo":0.58,"hi":0.66},{"t":21,"lo":0.59,"hi":0.70},{"t":22,"lo":0.57,"hi":0.67},{"t":23,"lo":0.59,"hi":0.68},{"t":24,"lo":0.56,"hi":0.72},{"t":25,"lo":0.58,"hi":0.66},{"t":26,"lo":0.57,"hi":0.69},
{"t":27,"lo":0.59,"hi":0.67},{"t":28,"lo":0.56,"hi":0.71},{"t":29,"lo":0.58,"hi":0.66},{"t":30,"lo":0.56,"hi":0.68},{"t":31,"lo":0.57,"hi":0.65},{"t":32,"lo":0.55,"hi":0.69},{"t":33,"lo":0.57,"hi":0.65},{"t":34,"lo":0.55,"hi":0.67},{"t":35,"lo":0.56,"hi":0.64},{"t":36,"lo":0.54,"hi":0.67},
{"t":37,"lo":0.56,"hi":0.63},{"t":38,"lo":0.54,"hi":0.66},{"t":39,"lo":0.55,"hi":0.64},{"t":40,"lo":0.53,"hi":0.65},{"t":41,"lo":0.55,"hi":0.63},{"t":42,"lo":0.53,"hi":0.64},{"t":43,"lo":0.54,"hi":0.62},{"t":44,"lo":0.52,"hi":0.65},{"t":45,"lo":0.54,"hi":0.62},{"t":46,"lo":0.52,"hi":0.63},
{"t":47,"lo":0.53,"hi":0.61},{"t":48,"lo":0.51,"hi":0.63},{"t":49,"lo":0.53,"hi":0.61},{"t":50,"lo":0.52,"hi":0.62},{"t":51,"lo":0.50,"hi":0.60},{"t":52,"lo":0.53,"hi":0.62},{"t":53,"lo":0.51,"hi":0.60},{"t":54,"lo":0.50,"hi":0.62},{"t":55,"lo":0.52,"hi":0.61},{"t":56,"lo":0.51,"hi":0.63},
{"t":57,"lo":0.53,"hi":0.61},{"t":58,"lo":0.52,"hi":0.64},{"t":59,"lo":0.53,"hi":0.60},{"t":59.6,"lo":0.45,"hi":0.58},{"t":60,"lo":0.25,"hi":0.45},{"t":60.5,"lo":0.10,"hi":0.22},{"t":61,"lo":0.05,"hi":0.14},{"t":62,"lo":0.02,"hi":0.10},{"t":63,"lo":-0.01,"hi":0.08},{"t":64,"lo":0.0,"hi":0.07},
{"t":65,"lo":-0.02,"hi":0.06},{"t":66,"lo":-0.01,"hi":0.05},{"t":67,"lo":-0.03,"hi":0.06},{"t":68,"lo":-0.02,"hi":0.04},{"t":69,"lo":-0.04,"hi":0.05},{"t":70,"lo":-0.02,"hi":0.06},{"t":71,"lo":-0.03,"hi":0.04},{"t":72,"lo":-0.04,"hi":0.05},{"t":73,"lo":-0.02,"hi":0.03},{"t":74,"lo":-0.05,"hi":0.06},
{"t":75,"lo":-0.03,"hi":0.04},{"t":76,"lo":-0.02,"hi":0.05},{"t":77,"lo":-0.04,"hi":0.03},{"t":78,"lo":-0.03,"hi":0.06},{"t":79,"lo":-0.06,"hi":0.04},{"t":80,"lo":-0.02,"hi":0.05},{"t":81,"lo":-0.04,"hi":0.03},{"t":82,"lo":-0.03,"hi":0.06},{"t":83,"lo":-0.02,"hi":0.04},{"t":84,"lo":-0.05,"hi":0.05},
{"t":85,"lo":-0.03,"hi":0.03},{"t":86,"lo":-0.02,"hi":0.06},{"t":87,"lo":-0.04,"hi":0.04},{"t":88,"lo":-0.03,"hi":0.05},{"t":89,"lo":-0.05,"hi":0.03},{"t":90,"lo":-0.02,"hi":0.06},{"t":91,"lo":-0.04,"hi":0.04},{"t":92,"lo":-0.03,"hi":0.05},{"t":93,"lo":-0.05,"hi":0.03},{"t":94,"lo":-0.02,"hi":0.06},
{"t":95,"lo":-0.04,"hi":0.04},{"t":96,"lo":-0.03,"hi":0.05},{"t":97,"lo":-0.02,"hi":0.07},{"t":98,"lo":-0.04,"hi":0.04},{"t":99,"lo":-0.03,"hi":0.05},{"t":100,"lo":-0.04,"hi":0.03}
],
"dPts": [
{"x":0.1,"y":0.145},{"x":2.02,"y":0.537},{"x":3.16,"y":0.797},{"x":4.36,"y":1.028},{"x":5.47,"y":1.238},{"x":6.37,"y":1.477},{"x":7.44,"y":1.728},{"x":8.58,"y":1.929},{"x":9.47,"y":2.117},{"x":10.62,"y":2.272},{"x":11.25,"y":2.382},{"x":12.32,"y":2.526},{"x":13.27,"y":2.622}
],
"insetNoise": [
{"x":1500,"y":-69.6,"s":1},{"x":1502,"y":-70.5,"s":1},{"x":1504,"y":-69.9,"s":1},{"x":1506,"y":-70.8,"s":1},{"x":1508,"y":-69.4,"s":1},{"x":1510,"y":-70.3,"s":1},{"x":1512,"y":-70.9,"s":1},{"x":1514,"y":-69.8,"s":1},{"x":1516,"y":-70.6,"s":1},{"x":1518,"y":-69.5,"s":1},
{"x":1520,"y":-70.2,"s":1},{"x":1522,"y":-71.0,"s":1},{"x":1524,"y":-69.7,"s":1},{"x":1526,"y":-70.4,"s":1},{"x":1528,"y":-70.9,"s":1},{"x":1530,"y":-69.9,"s":1},{"x":1532,"y":-70.6,"s":1},{"x":1534,"y":-70.1,"s":1},{"x":1536,"y":-70.8,"s":1},{"x":1538,"y":-69.6,"s":1},
{"x":1540,"y":-70.5,"s":1},{"x":1542,"y":-71.1,"s":1},{"x":1544,"y":-70.0,"s":1},{"x":1546,"y":-70.7,"s":1},{"x":1548,"y":-69.5,"s":1},{"x":1550,"y":-70.3,"s":1},{"x":1552,"y":-69.8,"s":1},{"x":1554,"y":-70.2,"s":1},{"x":1555,"y":-70.0,"s":1},
{"x":1663,"y":-70.0,"s":2},{"x":1665,"y":-70.8,"s":2},{"x":1667,"y":-70.3,"s":2},{"x":1669,"y":-71.2,"s":2},{"x":1671,"y":-70.6,"s":2},{"x":1673,"y":-71.5,"s":2},{"x":1675,"y":-70.9,"s":2},{"x":1677,"y":-71.8,"s":2},{"x":1679,"y":-71.1,"s":2},{"x":1681,"y":-72.0,"s":2},
{"x":1683,"y":-71.4,"s":2},{"x":1685,"y":-72.2,"s":2},{"x":1687,"y":-71.6,"s":2},{"x":1689,"y":-72.5,"s":2},{"x":1691,"y":-71.8,"s":2},{"x":1693,"y":-72.7,"s":2},{"x":1695,"y":-72.1,"s":2},{"x":1697,"y":-73.0,"s":2},{"x":1699,"y":-72.2,"s":2},{"x":1700,"y":-72.6,"s":2}
],
"insetSig": [
{"x":1555.6,"y":-73.7},{"x":1557.0,"y":-67.8},{"x":1558.3,"y":-63.3},{"x":1559.6,"y":-62.3},{"x":1560.1,"y":-65.3},{"x":1561.7,"y":-58.4},{"x":1562.8,"y":-54.4},{"x":1563.8,"y":-52.0},{"x":1564.9,"y":-53.7},{"x":1565.7,"y":-49.0},
{"x":1567.0,"y":-46.3},{"x":1568.1,"y":-49.5},{"x":1568.9,"y":-49.0},{"x":1569.7,"y":-53.0},{"x":1571.0,"y":-51.5},{"x":1572.3,"y":-55.4},{"x":1573.4,"y":-52.5},{"x":1574.7,"y":-49.0},{"x":1575.5,"y":-55.9},{"x":1576.8,"y":-53.5},
{"x":1578.1,"y":-56.4},{"x":1579.5,"y":-52.0},{"x":1580.8,"y":-54.9},{"x":1582.1,"y":-51.5},{"x":1583.4,"y":-59.9},{"x":1584.8,"y":-52.5},{"x":1586.1,"y":-52.0},{"x":1587.4,"y":-53.5},{"x":1588.7,"y":-50.0},{"x":1590.1,"y":-52.0},
{"x":1591.4,"y":-57.4},{"x":1592.7,"y":-51.0},{"x":1594.0,"y":-61.9},{"x":1595.4,"y":-54.9},{"x":1596.7,"y":-52.0},{"x":1598.0,"y":-58.4},{"x":1599.3,"y":-55.4},{"x":1600.7,"y":-59.4},{"x":1602.0,"y":-54.0},{"x":1603.3,"y":-55.4},
{"x":1604.6,"y":-54.9},{"x":1606.0,"y":-57.9},{"x":1607.3,"y":-55.4},{"x":1608.6,"y":-58.9},{"x":1609.9,"y":-56.9},{"x":1611.3,"y":-62.8},{"x":1612.6,"y":-60.9},{"x":1613.9,"y":-56.4},{"x":1615.2,"y":-57.4},{"x":1616.6,"y":-61.9},
{"x":1617.9,"y":-63.8},{"x":1619.2,"y":-65.3},{"x":1620.5,"y":-64.3},{"x":1621.9,"y":-62.3},{"x":1623.2,"y":-66.3},{"x":1624.5,"y":-64.8},{"x":1625.8,"y":-67.3},{"x":1627.2,"y":-62.8},{"x":1628.5,"y":-66.3},{"x":1629.8,"y":-67.8},
{"x":1631.1,"y":-70.2},{"x":1632.5,"y":-65.8},{"x":1633.8,"y":-62.3},{"x":1635.1,"y":-66.8},{"x":1636.4,"y":-69.3},{"x":1637.7,"y":-64.8},{"x":1639.1,"y":-67.8},{"x":1640.4,"y":-63.8},{"x":1641.7,"y":-60.9},{"x":1643.0,"y":-61.9},
{"x":1644.4,"y":-60.4},{"x":1645.7,"y":-65.8},{"x":1647.0,"y":-59.4},{"x":1648.3,"y":-64.3},{"x":1649.7,"y":-68.8},{"x":1651.0,"y":-65.8},{"x":1652.3,"y":-63.8},{"x":1653.6,"y":-62.3},{"x":1655.0,"y":-60.4},{"x":1656.3,"y":-62.8},
{"x":1657.6,"y":-66.8},{"x":1658.9,"y":-67.8},{"x":1660.3,"y":-69.8},{"x":1661.6,"y":-71.7},{"x":1662.9,"y":-73.7}
]
},
"config": {
 "view": {"stroke": "black", "strokeWidth": 2.5},
 "font": "Liberation Sans",
 "axis": {"domainColor": "black", "domainWidth": 2.5, "tickColor": "black", "tickWidth": 2.5, "tickSize": 10,
   "labelFont": "Liberation Sans", "labelFontSize": 37, "labelColor": "black",
   "titleFont": "Liberation Sans", "titleFontSize": 40, "titleFontWeight": "normal", "titleColor": "black",
   "grid": false, "labelFlush": false, "labelOverlap": false, "labelBound": false, "zindex": 1},
 "text": {"font": "Liberation Sans"}
}
}
